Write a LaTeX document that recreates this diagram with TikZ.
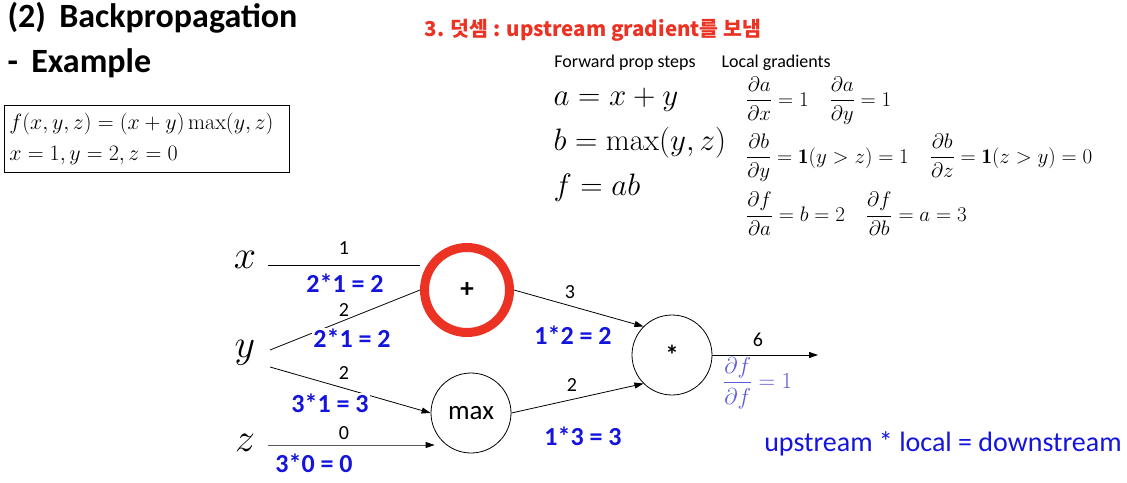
\RequirePackage{fix-cm}
\documentclass[tikz,border=0pt]{standalone}
\usepackage{amsmath}
\usepackage{fontspec}
\setsansfont{Carlito}
\newfontfamily\kr{Noto Sans CJK KR}
\usetikzlibrary{arrows.meta}
\definecolor{bl}{RGB}{20,20,220}
\definecolor{lbl}{RGB}{90,90,220}
\definecolor{rd}{RGB}{235,50,35}
\begin{document}
\begin{tikzpicture}[x=1pt,y=-1pt,
  gate/.style={circle,draw,thick,minimum size=80pt,inner sep=0pt,font=\sffamily\fontsize{27}{28}\selectfont},
  var/.style={font=\fontsize{40}{40}\selectfont},
  wl/.style={font=\sffamily\fontsize{20}{22}\selectfont,inner sep=1pt},
  gl/.style={font=\sffamily\bfseries\fontsize{26}{28}\selectfont,text=bl,inner sep=1pt},
  ar/.style={-{Stealth[length=9pt,width=6pt,inset=0pt]},thick},
  ln/.style={thick}]
\useasboundingbox (0,0) rectangle (1127,482);
% titles
\node[anchor=west,font=\sffamily\bfseries\fontsize{34}{36}\selectfont] (t1) at (4,18) {(2)\, Backpropagation};
\node[anchor=west,font=\sffamily\bfseries\fontsize{34}{36}\selectfont] (t2) at (4,63) {-\, Example};
\node[font=\kr\bfseries\fontsize{20.5}{22}\selectfont,text=rd] (t3) at (593,30) {3. 덧셈 : upstream gradient를 보냄};
% function box
\node[draw,thick,anchor=north west,minimum width=285pt,minimum height=67pt,align=left,font=\fontsize{22}{31}\selectfont,text width=275pt,inner sep=5pt] (box) at (4,105)
  {$f(x,y,z)=(x+y)\max(y,z)$\\ $x=1, y=2, z=0$};
% forward / local
\node[font=\sffamily\fontsize{18}{18}\selectfont] (fp) at (625,63) {Forward prop steps};
\node[font=\sffamily\fontsize{18}{18}\selectfont,anchor=west] (lg) at (718,63) {Local gradients};
\node[anchor=west,font=\fontsize{31}{34}\selectfont] (e1) at (550,100) {$a=x+y$};
\node[anchor=west,font=\fontsize{31}{34}\selectfont] (e2) at (550,143) {$b=\max(y,z)$};
\node[anchor=west,font=\fontsize{31}{34}\selectfont] (e3) at (550,188) {$f=ab$};
\node[anchor=west,font=\fontsize{21}{22}\selectfont,inner sep=0pt] (g1) at (746,101) {$\dfrac{\partial a}{\partial x}=1\quad \dfrac{\partial a}{\partial y}=1$};
\node[anchor=west,font=\fontsize{21}{22}\selectfont,inner sep=0pt] (g2) at (746,158) {$\dfrac{\partial b}{\partial y}=\mathbf{1}(y>z)=1\quad \dfrac{\partial b}{\partial z}=\mathbf{1}(z>y)=0$};
\node[anchor=west,font=\fontsize{21}{22}\selectfont,inner sep=0pt] (g3) at (746,214) {$\dfrac{\partial f}{\partial a}=b=2\quad \dfrac{\partial f}{\partial b}=a=3$};
% graph
\node[var] (x) at (245,260) {$x$};
\node[var] (y) at (245,353) {$y$};
\node[var] (z) at (245,443) {$z$};
\node[gate,draw=rd,line width=9pt,minimum size=85pt] (plus) at (467,290) {\textbf{+}};
\node[gate] (max) at (471,413) {max};
\node[gate] (mul) at (672,355) {\textbf{*}};
\coordinate (out) at (818,355);
\draw[ln] (268,265) -- (plus.west |- 0,265);
\draw[ln] (270,350) -- (plus.west);
\draw[ar] (270,367) -- (max.west);
\draw[ar] (268,445) -- (max.west |- 0,445) -- ++(4,0);
\draw[ar] (plus.east) -- (mul.north west);
\draw[ar] (max.east) -- (mul.south west);
\draw[ar] (mul.east) -- (out);
% labels
\node[wl] (l1) at (344,248) {1};
\node[gl] (b1) at (345,283) {2*1 = 2};
\node[wl] (l2) at (344,310) {2};
\node[gl,fill=white] (b2) at (352,338) {2*1 = 2};
\node[wl,fill=white] (l3) at (344,373) {2};
\node[gl,fill=white] (b3) at (330,403) {3*1 = 3};
\node[wl] (l4) at (344,433) {0};
\node[gl] (b4) at (314,463) {3*0 = 0};
\node[wl] (l5) at (570,292) {3};
\node[gl] (b5) at (573,335) {1*2 = 2};
\node[wl] (l6) at (572,385) {2};
\node[gl] (b6) at (583,436) {1*3 = 3};
\node[wl] (l7) at (758,340) {6};
\node[text=lbl,font=\fontsize{23}{24}\selectfont,anchor=west,inner sep=0pt] (d) at (723,383) {$\dfrac{\partial f}{\partial f}=1$};
\node[font=\sffamily\fontsize{28}{30}\selectfont,text=bl] (u) at (943,444) {upstream * local = downstream};
\end{tikzpicture}
\end{document}
